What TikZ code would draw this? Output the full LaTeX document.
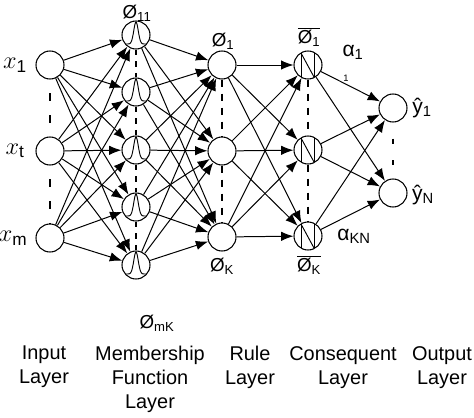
\documentclass[tikz,border=0pt]{standalone}
\usepackage{fontspec}
\setmainfont{Liberation Sans}
\usetikzlibrary{arrows.meta}

\tikzset{
  neuron/.style={circle, draw, line width=0.9pt, minimum size=0.84cm, inner sep=0pt},
  link/.style={line width=0.85pt, -{Latex[length=10.5pt,width=8pt]}},
  gap/.style={line width=0.9pt, dash pattern=on 5pt off 5pt},
  lbl/.style={inner sep=0pt, font=\fontsize{16}{18}\selectfont},
  layer/.style={align=center, inner sep=0pt, font=\fontsize{17}{20.5}\selectfont}
}

\begin{document}
\begin{tikzpicture}[x=0.03cm, y=-0.03cm]
  \useasboundingbox (0,0) rectangle (474,417);
  % input layer
  \node[neuron] (x1) at (50,65) {};
  \node[neuron] (x2) at (50,151) {};
  \node[neuron] (x3) at (50,238) {};
  % membership function layer
  \foreach \i/\y in {1/35,2/92,3/150,4/207,5/265} {
    \node[neuron] (m\i) at (136,\y) {};
    \draw[line width=0.8pt] plot[domain=-10:10, samples=41, smooth]
      ({136+\x}, {\y+9-22*exp(-(\x*\x)/10)});
  }
  % rule layer
  \node[neuron] (r1) at (222,65) {};
  \node[neuron] (r2) at (222,151) {};
  \node[neuron] (r3) at (222,237) {};
  % consequent layer
  \foreach \i/\y in {1/65,2/150,3/236} {
    \node[neuron] (c\i) at (308,\y) {};
    \draw[line width=0.8pt] (301,\y-12) -- (301,\y+12);
    \draw[line width=0.8pt] (301,\y-12) -- (314,\y+12);
    \draw[line width=0.8pt] (314,\y-12) -- (314,\y+12);
  }
  % output layer
  \node[neuron] (o1) at (393,108) {};
  \node[neuron] (o2) at (393,193) {};

  % connections
  \foreach \a in {1,2,3} \foreach \b in {1,...,5} \draw[link] (x\a) -- (m\b);
  \foreach \a in {1,...,5} \foreach \b in {1,2,3} \draw[link] (m\a) -- (r\b);
  \foreach \a in {1,2,3} \foreach \b in {1,2,3} \draw[link] (r\a) -- (c\b);
  \foreach \a in {1,2,3} \foreach \b in {1,2} \draw[link] (c\a) -- (o\b);

  % dashed columns
  \draw[gap, dash pattern=on 6.8pt off 11.9pt, dash phase=6.8pt] (x1) -- (x2);
  \draw[gap, dash pattern=on 6.8pt off 11.9pt, dash phase=6.8pt] (x2) -- (x3);
  \draw[gap] (m1) -- (m2);
  \draw[gap] (m2) -- (m3);
  \draw[gap] (m3) -- (m4);
  \draw[gap] (m4) -- (m5);
  \draw[gap, dash pattern=on 6pt off 6pt] (r1) -- (r2);
  \draw[gap, dash pattern=on 6pt off 6pt] (r2) -- (r3);
  \draw[gap, dash pattern=on 6pt off 6pt] (c1) -- (c2);
  \draw[gap, dash pattern=on 6pt off 6pt] (c2) -- (c3);
  \draw[gap, dash pattern=on 4.5pt off 13.75pt, dash phase=4.5pt] (o1) -- (o2);

  % labels
  \node[lbl, font=\fontsize{21}{23}\selectfont] (lx1) at (15,65) {$x$\textsubscript{1}};
  \node[lbl, font=\fontsize{21}{23}\selectfont] (lx2) at (15,151) {$x$\textsubscript{t}};
  \node[lbl, font=\fontsize{21}{23}\selectfont] (lx3) at (13,238) {$x$\textsubscript{m}};
  \node[lbl] (lm11) at (137,13) {Ø\textsubscript{11}};
  \node[lbl] (lmmk) at (157,323) {Ø\textsubscript{mK}};
  \node[lbl] (lr1) at (223,41) {Ø\textsubscript{1}};
  \node[lbl] (lrk) at (222,266) {Ø\textsubscript{K}};
  \node[lbl] (lc1) at (309,37) {$\overline{\mbox{Ø\textsubscript{1}}}$};
  \node[lbl] (lck) at (309,265) {$\overline{\mbox{Ø\textsubscript{K}}}$};
  \node[lbl, font=\fontsize{18}{20}\selectfont] (la1) at (353,52) {α\textsubscript{1}};
  \node[lbl, font=\fontsize{8}{9}\selectfont] (lone) at (346,78) {1};
  \node[lbl, font=\fontsize{18}{20}\selectfont] (lakn) at (354,236) {α\textsubscript{KN}};
  \node[lbl, font=\fontsize{18}{20}\selectfont] (ly1) at (422,108) {ŷ\textsubscript{1}};
  \node[lbl, font=\fontsize{18}{20}\selectfont] (lyn) at (423,195) {ŷ\textsubscript{N}};

  % layer names
  \node[layer, anchor=north] (tin) at (44,346) {Input\\Layer};
  \node[layer, anchor=north] (tmf) at (150,346) {Membership\\Function\\Layer};
  \node[layer, anchor=north] (tru) at (250,346) {Rule\\Layer};
  \node[layer, anchor=north] (tco) at (343,346) {Consequent\\Layer};
  \node[layer, anchor=north] (tou) at (442,346) {Output\\Layer};
\end{tikzpicture}
\end{document}
